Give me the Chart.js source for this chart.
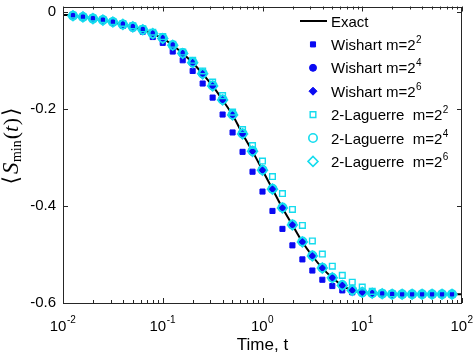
<!DOCTYPE html>
<html><head><meta charset="utf-8">
<script src="https://cdn.jsdelivr.net/npm/chart.js@4.4.0/dist/chart.umd.min.js"></script>
<style>html,body{margin:0;padding:0;background:#fff;}</style>
</head><body>
<canvas id="c" width="474" height="355"></canvas>
<script>
// ---- data ----
const tValues = [0.01259,0.01585,0.01995,0.02512,0.03162,0.03981,0.05012,0.0631,0.07943,
  0.1,0.1259,0.1585,0.1995,0.2512,0.3162,0.3981,0.5012,0.631,0.7943,
  1,1.259,1.585,1.995,2.512,3.162,3.981,5.012,6.31,7.943,
  10,12.59,15.85,19.95,25.12,31.62,39.81,50.12,63.1,79.43];

const exactTime = [0.01,0.01259,0.01585,0.01995,0.02512,0.03162,0.03981,0.05012,0.0631,0.07943,
  0.1,0.1259,0.1585,0.1995,0.2512,0.3162,0.3981,0.5012,0.631,0.7943,
  1,1.259,1.585,1.995,2.512,3.162,3.981,5.012,6.31,7.943,
  10,12.59,15.85,19.95,25.12,31.62,39.81,50.12,63.1,79.43,100];
const exactValues = [-0.005,-0.007,-0.0095,-0.013,-0.016,-0.020,-0.025,-0.030,-0.036,-0.044,
  -0.054,-0.068,-0.085,-0.104,-0.127,-0.152,-0.181,-0.212,-0.251,-0.287,
  -0.326,-0.365,-0.404,-0.439,-0.474,-0.503,-0.528,-0.548,-0.564,-0.574,
  -0.578,-0.580,-0.581,-0.582,-0.582,-0.582,-0.582,-0.582,-0.582,-0.582,-0.582];

const wishart4 = [-0.007,-0.010,-0.014,-0.018,-0.022,-0.028,-0.033,-0.040,-0.051,
  -0.063,-0.081,-0.099,-0.121,-0.147,-0.176,-0.211,-0.248,-0.288,-0.329,
  -0.370,-0.410,-0.447,-0.481,-0.510,-0.533,-0.552,-0.565,-0.574,-0.578,
  -0.580,-0.581,-0.582,-0.582,-0.582,-0.582,-0.582,-0.582,-0.582,-0.582];
const wishart16 = [-0.007,-0.0095,-0.013,-0.016,-0.020,-0.025,-0.030,-0.036,-0.044,
  -0.054,-0.069,-0.086,-0.105,-0.128,-0.153,-0.182,-0.213,-0.252,-0.288,
  -0.327,-0.366,-0.405,-0.440,-0.475,-0.504,-0.529,-0.549,-0.564,-0.574,
  -0.578,-0.580,-0.581,-0.582,-0.582,-0.582,-0.582,-0.582,-0.582,-0.582];
const wishart64 = [-0.007,-0.0095,-0.013,-0.016,-0.020,-0.025,-0.030,-0.036,-0.044,
  -0.054,-0.068,-0.085,-0.104,-0.127,-0.152,-0.181,-0.212,-0.251,-0.287,
  -0.326,-0.365,-0.404,-0.439,-0.474,-0.503,-0.528,-0.548,-0.564,-0.574,
  -0.578,-0.580,-0.581,-0.582,-0.582,-0.582,-0.582,-0.582,-0.582,-0.582];
const laguerre4 = [-0.006,-0.009,-0.012,-0.015,-0.019,-0.023,-0.028,-0.034,-0.041,
  -0.050,-0.066,-0.082,-0.099,-0.121,-0.144,-0.172,-0.206,-0.242,-0.275,
  -0.307,-0.339,-0.374,-0.407,-0.440,-0.472,-0.499,-0.524,-0.543,-0.557,
  -0.567,-0.576,-0.580,-0.581,-0.582,-0.582,-0.582,-0.582,-0.582,-0.582];
const laguerre16 = [-0.007,-0.0095,-0.013,-0.016,-0.020,-0.025,-0.030,-0.036,-0.044,
  -0.053,-0.068,-0.084,-0.103,-0.126,-0.151,-0.180,-0.211,-0.250,-0.286,
  -0.325,-0.364,-0.403,-0.438,-0.473,-0.502,-0.527,-0.548,-0.563,-0.573,
  -0.578,-0.580,-0.581,-0.582,-0.582,-0.582,-0.582,-0.582,-0.582,-0.582];
const laguerre64 = [-0.007,-0.0095,-0.013,-0.016,-0.020,-0.025,-0.030,-0.036,-0.044,
  -0.054,-0.068,-0.085,-0.104,-0.127,-0.152,-0.181,-0.212,-0.251,-0.287,
  -0.326,-0.365,-0.404,-0.439,-0.474,-0.503,-0.528,-0.548,-0.564,-0.574,
  -0.578,-0.580,-0.581,-0.582,-0.582,-0.582,-0.582,-0.582,-0.582,-0.582];

const seriesLabels = ['Exact','Wishart m=2^2','Wishart m=2^4','Wishart m=2^6',
  '2-Laguerre  m=2^2','2-Laguerre  m=2^4','2-Laguerre  m=2^6'];

const xTickValues = [0.01, 0.1, 1, 10, 100];
const xTickExps = ['-2','-1','0','1','2'];
const xMinorFactors = [2,3,4,5,6,7,8,9];
const yTickValues = [0, -0.2, -0.4, -0.6];
const yTickLabels = ['0', '-0.2', '-0.4', '-0.6'];
const xTitle = 'Time, t';

// ---- styles ----
const BLUE = '#0a0af2';
const CYAN = '#14dcee';
const SANS = '"Liberation Sans", Arial, Helvetica, sans-serif';
const SERIF = '"Liberation Serif", "DejaVu Serif", "Times New Roman", serif';

function pts(xs, ys) { return xs.map((x, i) => ({ x: x, y: ys[i] })); }

const datasets = [
  { label: seriesLabels[0], data: pts(exactTime, exactValues), showLine: true, borderColor: '#000',
    borderWidth: 2, pointRadius: 0, cubicInterpolationMode: 'monotone', fill: false, order: 7 },
  { label: seriesLabels[1], data: pts(tValues, wishart4), pointStyle: 'rect', pointRadius: 3.6,
    backgroundColor: BLUE, borderColor: BLUE, borderWidth: 1, order: 6 },
  { label: seriesLabels[2], data: pts(tValues, wishart16), pointStyle: 'circle', pointRadius: 3.5,
    backgroundColor: BLUE, borderColor: BLUE, borderWidth: 1, order: 5 },
  { label: seriesLabels[3], data: pts(tValues, wishart64), pointStyle: 'rectRot', pointRadius: 4,
    backgroundColor: BLUE, borderColor: BLUE, borderWidth: 1, order: 4 },
  { label: seriesLabels[4], data: pts(tValues, laguerre4), pointStyle: 'rect', pointRadius: 4,
    backgroundColor: 'rgba(0,0,0,0)', borderColor: CYAN, borderWidth: 1.4, order: 3 },
  { label: seriesLabels[5], data: pts(tValues, laguerre16), pointStyle: 'circle', pointRadius: 4.2,
    backgroundColor: 'rgba(0,0,0,0)', borderColor: CYAN, borderWidth: 1.6, order: 2 },
  { label: seriesLabels[6], data: pts(tValues, laguerre64), pointStyle: 'rectRot', pointRadius: 5,
    backgroundColor: 'rgba(0,0,0,0)', borderColor: CYAN, borderWidth: 1.5, order: 1 }
];

function drawMarker(ctx, style, r, x, y) {
  ctx.beginPath();
  if (style === 'circle') ctx.arc(x, y, r, 0, Math.PI * 2);
  else if (style === 'rect') { const s = r * Math.SQRT1_2; ctx.rect(x - s, y - s, 2 * s, 2 * s); }
  else { ctx.moveTo(x - r, y); ctx.lineTo(x, y - r); ctx.lineTo(x + r, y); ctx.lineTo(x, y + r); ctx.closePath(); }
}

function drawSupText(ctx, text, x, y, size, supSize, rise) {
  // text like "base^exp"; left aligned at x, baseline y
  const parts = text.split('^');
  ctx.textAlign = 'left'; ctx.textBaseline = 'alphabetic';
  ctx.font = size + 'px ' + SANS;
  ctx.fillText(parts[0], x, y);
  if (parts.length > 1) {
    const w = ctx.measureText(parts[0]).width;
    ctx.font = supSize + 'px ' + SANS;
    ctx.fillText(parts[1], x + w + 0.5, y - rise);
  }
}

const axesPlugin = {
  id: 'axesDecor',
  afterDraw(chart) {
    const ctx = chart.ctx, a = chart.chartArea, xs = chart.scales.x, ys = chart.scales.y;
    ctx.save();
    ctx.strokeStyle = '#262626'; ctx.lineWidth = 1;
    // frame
    ctx.strokeRect(Math.round(a.left) + 0.5, Math.round(a.top) + 0.5,
      Math.round(a.right - a.left) - 1, Math.round(a.bottom - a.top) - 1);
    // x ticks
    ctx.beginPath();
    xTickValues.forEach((d, i) => {
      const p = Math.round(xs.getPixelForValue(d)) + 0.5;
      ctx.moveTo(p, a.bottom); ctx.lineTo(p, a.bottom - 5);
      ctx.moveTo(p, a.top); ctx.lineTo(p, a.top + 5);
      if (i < xTickValues.length - 1) {
        xMinorFactors.forEach(f => {
          const q = Math.round(xs.getPixelForValue(d * f)) + 0.5;
          ctx.moveTo(q, a.bottom); ctx.lineTo(q, a.bottom - 3);
          ctx.moveTo(q, a.top); ctx.lineTo(q, a.top + 3);
        });
      }
    });
    yTickValues.forEach(v => {
      const p = Math.round(ys.getPixelForValue(v)) + 0.5;
      ctx.moveTo(a.left, p); ctx.lineTo(a.left + 5, p);
      ctx.moveTo(a.right, p); ctx.lineTo(a.right - 5, p);
    });
    ctx.stroke();
    // tick labels
    ctx.fillStyle = '#000';
    ctx.font = '15px ' + SANS;
    ctx.textAlign = 'right'; ctx.textBaseline = 'middle';
    yTickValues.forEach((v, i) => {
      ctx.fillText(yTickLabels[i], a.left - 7, ys.getPixelForValue(v));
    });
    xTickValues.forEach((v, i) => {
      const p = xs.getPixelForValue(v);
      ctx.font = '15px ' + SANS;
      const w1 = ctx.measureText('10').width;
      ctx.font = '10px ' + SANS;
      const w2 = ctx.measureText(xTickExps[i]).width;
      const start = p - (w1 + w2 + 1) / 2;
      drawSupText(ctx, '10^' + xTickExps[i], start, a.bottom + 28, 15, 10, 8);
    });
    // x title
    ctx.font = '17px ' + SANS;
    ctx.textAlign = 'center'; ctx.textBaseline = 'middle';
    ctx.fillText(xTitle, (a.left + a.right) / 2, 345);
    // y title  <S_min(t)>
    ctx.save();
    ctx.translate(12, 146);
    ctx.rotate(-Math.PI / 2);
    const pieces = [
      { t: '\u27E8', f: '22px ' + SERIF, dy: 0, gap: 2 },
      { t: 'S', f: 'italic 23px ' + SERIF, dy: 0, gap: 0.5 },
      { t: 'min', f: '14px ' + SERIF, dy: 5, gap: 1 },
      { t: '(', f: '22px ' + SERIF, dy: 0, gap: 0 },
      { t: 't', f: 'italic 22px ' + SERIF, dy: 0, gap: 0.5 },
      { t: ')', f: '22px ' + SERIF, dy: 0, gap: 2 },
      { t: '\u27E9', f: '22px ' + SERIF, dy: 0, gap: 0 }
    ];
    let total = 0;
    pieces.forEach(pc => { ctx.font = pc.f; pc.w = ctx.measureText(pc.t).width; total += pc.w + pc.gap; });
    let cx = -total / 2;
    ctx.textAlign = 'left'; ctx.textBaseline = 'middle';
    pieces.forEach(pc => { ctx.font = pc.f; ctx.fillText(pc.t, cx, pc.dy); cx += pc.w + pc.gap; });
    ctx.restore();
    // legend
    const lx = 313, tx = 331, ly0 = 21, dy = 23.4;
    chart.data.datasets.forEach((ds, i) => {
      const yy = ly0 + i * dy;
      if (i === 0) {
        ctx.strokeStyle = '#000'; ctx.lineWidth = 2;
        ctx.beginPath(); ctx.moveTo(300, yy); ctx.lineTo(327, yy); ctx.stroke();
      } else {
        ctx.fillStyle = ds.backgroundColor; ctx.strokeStyle = ds.borderColor; ctx.lineWidth = ds.borderWidth;
        drawMarker(ctx, ds.pointStyle, ds.pointRadius, lx, yy);
        ctx.fill(); ctx.stroke();
      }
      ctx.fillStyle = '#000';
      drawSupText(ctx, ds.label, tx, yy + 5.5, 15, 10, 7);
    });
    ctx.restore();
  }
};

new Chart(document.getElementById('c'), {
  type: 'scatter',
  data: { datasets: datasets },
  options: {
    responsive: false,
    animation: false,
    devicePixelRatio: 1,
    layout: { padding: { top: 0, right: 12, left: 0, bottom: 0 } },
    plugins: { legend: { display: false }, tooltip: { enabled: false } },
    scales: {
      x: {
        type: 'logarithmic', min: 0.01, max: 100,
        ticks: { display: false }, grid: { display: false }, border: { display: false },
        afterFit: s => { s.height = 52; }
      },
      y: {
        type: 'linear', min: -0.6, max: 0.012,
        ticks: { display: false }, grid: { display: false }, border: { display: false },
        afterFit: s => { s.width = 63; }
      }
    }
  },
  plugins: [axesPlugin]
});
</script>
</body></html>
